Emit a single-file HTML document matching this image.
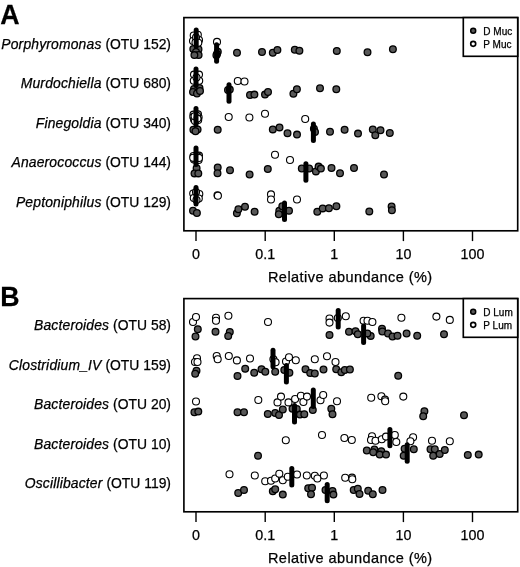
<!DOCTYPE html>
<html><head><meta charset="utf-8"><title>Figure</title>
<style>
html,body{margin:0;padding:0;background:#fff;}
svg{display:block;font-family:"Liberation Sans",sans-serif;fill:#000;}
text{stroke:#000;stroke-width:0.25px;}
</style></head>
<body>
<svg width="520" height="567" viewBox="0 0 520 567">
<rect x="0" y="0" width="520" height="567" fill="#fff"/>
<g id="panelA">
<text transform="translate(0.25,24.0) scale(0.955,1.01)" x="0" y="0" font-size="28" font-weight="bold">A</text>
<text x="171" y="49.0" font-size="13.9" text-anchor="end"><tspan font-style="italic" letter-spacing="0.17">Porphyromonas</tspan> (OTU 152)</text>
<text x="171" y="88.3" font-size="13.9" text-anchor="end"><tspan font-style="italic" letter-spacing="0.17">Murdochiella</tspan> (OTU 680)</text>
<text x="171" y="127.8" font-size="13.9" text-anchor="end"><tspan font-style="italic" letter-spacing="0.17">Finegoldia</tspan> (OTU 340)</text>
<text x="171" y="167.3" font-size="13.9" text-anchor="end"><tspan font-style="italic" letter-spacing="0.17">Anaerococcus</tspan> (OTU 144)</text>
<text x="171" y="206.6" font-size="13.9" text-anchor="end"><tspan font-style="italic" letter-spacing="0.17">Peptoniphilus</tspan> (OTU 129)</text>
<circle cx="193.3" cy="49.0" r="3.35" fill="#585858" stroke="#000" stroke-width="1.3"/>
<circle cx="198.5" cy="49.3" r="3.35" fill="#585858" stroke="#000" stroke-width="1.3"/>
<circle cx="196.0" cy="52.0" r="3.35" fill="#585858" stroke="#000" stroke-width="1.3"/>
<circle cx="198.6" cy="55.0" r="3.35" fill="#585858" stroke="#000" stroke-width="1.3"/>
<circle cx="194.4" cy="55.1" r="3.35" fill="#585858" stroke="#000" stroke-width="1.3"/>
<circle cx="217.8" cy="51.8" r="3.35" fill="#585858" stroke="#000" stroke-width="1.3"/>
<circle cx="217.0" cy="54.0" r="3.35" fill="#585858" stroke="#000" stroke-width="1.3"/>
<circle cx="216.4" cy="55.3" r="3.35" fill="#585858" stroke="#000" stroke-width="1.3"/>
<circle cx="237.0" cy="52.8" r="3.35" fill="#585858" stroke="#000" stroke-width="1.3"/>
<circle cx="262.0" cy="52.0" r="3.35" fill="#585858" stroke="#000" stroke-width="1.3"/>
<circle cx="272.8" cy="52.8" r="3.35" fill="#585858" stroke="#000" stroke-width="1.3"/>
<circle cx="277.4" cy="50.0" r="3.35" fill="#585858" stroke="#000" stroke-width="1.3"/>
<circle cx="294.8" cy="49.7" r="3.35" fill="#585858" stroke="#000" stroke-width="1.3"/>
<circle cx="299.4" cy="50.8" r="3.35" fill="#585858" stroke="#000" stroke-width="1.3"/>
<circle cx="336.8" cy="50.9" r="3.35" fill="#585858" stroke="#000" stroke-width="1.3"/>
<circle cx="367.5" cy="52.3" r="3.35" fill="#585858" stroke="#000" stroke-width="1.3"/>
<circle cx="392.9" cy="49.2" r="3.35" fill="#585858" stroke="#000" stroke-width="1.3"/>
<circle cx="193.7" cy="35.5" r="3.5" fill="#fff" stroke="#000" stroke-width="1.1"/>
<circle cx="193.0" cy="41.0" r="3.5" fill="#fff" stroke="#000" stroke-width="1.1"/>
<circle cx="197.8" cy="34.8" r="3.5" fill="#fff" stroke="#000" stroke-width="1.1"/>
<circle cx="199.0" cy="40.0" r="3.5" fill="#fff" stroke="#000" stroke-width="1.1"/>
<circle cx="196.0" cy="37.5" r="3.5" fill="#fff" stroke="#000" stroke-width="1.1"/>
<circle cx="195.5" cy="42.5" r="3.5" fill="#fff" stroke="#000" stroke-width="1.1"/>
<circle cx="198.3" cy="42.8" r="3.5" fill="#fff" stroke="#000" stroke-width="1.1"/>
<circle cx="217.0" cy="41.9" r="3.5" fill="#fff" stroke="#000" stroke-width="1.1"/>
<line x1="216.6" y1="44.8" x2="216.6" y2="61.2" stroke="#000" stroke-width="5" stroke-linecap="round"/>
<line x1="196.2" y1="30.1" x2="196.2" y2="46.5" stroke="#000" stroke-width="5" stroke-linecap="round"/>
<circle cx="194.0" cy="89.0" r="3.35" fill="#585858" stroke="#000" stroke-width="1.3"/>
<circle cx="199.5" cy="88.0" r="3.35" fill="#585858" stroke="#000" stroke-width="1.3"/>
<circle cx="193.0" cy="92.0" r="3.35" fill="#585858" stroke="#000" stroke-width="1.3"/>
<circle cx="197.0" cy="93.5" r="3.35" fill="#585858" stroke="#000" stroke-width="1.3"/>
<circle cx="200.0" cy="91.0" r="3.35" fill="#585858" stroke="#000" stroke-width="1.3"/>
<circle cx="228.0" cy="90.0" r="3.35" fill="#585858" stroke="#000" stroke-width="1.3"/>
<circle cx="229.8" cy="89.6" r="3.35" fill="#585858" stroke="#000" stroke-width="1.3"/>
<circle cx="250.0" cy="95.0" r="3.35" fill="#585858" stroke="#000" stroke-width="1.3"/>
<circle cx="254.4" cy="94.6" r="3.35" fill="#585858" stroke="#000" stroke-width="1.3"/>
<circle cx="265.0" cy="94.6" r="3.35" fill="#585858" stroke="#000" stroke-width="1.3"/>
<circle cx="268.0" cy="92.0" r="3.35" fill="#585858" stroke="#000" stroke-width="1.3"/>
<circle cx="293.4" cy="93.7" r="3.35" fill="#585858" stroke="#000" stroke-width="1.3"/>
<circle cx="296.9" cy="89.2" r="3.35" fill="#585858" stroke="#000" stroke-width="1.3"/>
<circle cx="320.0" cy="88.3" r="3.35" fill="#585858" stroke="#000" stroke-width="1.3"/>
<circle cx="336.3" cy="89.2" r="3.35" fill="#585858" stroke="#000" stroke-width="1.3"/>
<circle cx="194.0" cy="74.6" r="3.5" fill="#fff" stroke="#000" stroke-width="1.1"/>
<circle cx="199.0" cy="74.6" r="3.5" fill="#fff" stroke="#000" stroke-width="1.1"/>
<circle cx="193.8" cy="80.8" r="3.5" fill="#fff" stroke="#000" stroke-width="1.1"/>
<circle cx="199.2" cy="80.8" r="3.5" fill="#fff" stroke="#000" stroke-width="1.1"/>
<circle cx="196.5" cy="77.5" r="3.5" fill="#fff" stroke="#000" stroke-width="1.1"/>
<circle cx="237.8" cy="81.0" r="3.5" fill="#fff" stroke="#000" stroke-width="1.1"/>
<circle cx="244.5" cy="81.5" r="3.5" fill="#fff" stroke="#000" stroke-width="1.1"/>
<line x1="229.0" y1="84.8" x2="229.0" y2="101.2" stroke="#000" stroke-width="5" stroke-linecap="round"/>
<line x1="196.0" y1="69.1" x2="196.0" y2="85.5" stroke="#000" stroke-width="5" stroke-linecap="round"/>
<circle cx="193.4" cy="129.8" r="3.35" fill="#585858" stroke="#000" stroke-width="1.3"/>
<circle cx="197.6" cy="129.5" r="3.35" fill="#585858" stroke="#000" stroke-width="1.3"/>
<circle cx="195.5" cy="131.2" r="3.35" fill="#585858" stroke="#000" stroke-width="1.3"/>
<circle cx="217.7" cy="129.8" r="3.35" fill="#585858" stroke="#000" stroke-width="1.3"/>
<circle cx="272.8" cy="129.4" r="3.35" fill="#585858" stroke="#000" stroke-width="1.3"/>
<circle cx="279.5" cy="127.4" r="3.35" fill="#585858" stroke="#000" stroke-width="1.3"/>
<circle cx="287.5" cy="133.3" r="3.35" fill="#585858" stroke="#000" stroke-width="1.3"/>
<circle cx="297.0" cy="134.6" r="3.35" fill="#585858" stroke="#000" stroke-width="1.3"/>
<circle cx="313.9" cy="128.7" r="3.35" fill="#585858" stroke="#000" stroke-width="1.3"/>
<circle cx="315.0" cy="131.9" r="3.35" fill="#585858" stroke="#000" stroke-width="1.3"/>
<circle cx="330.0" cy="131.7" r="3.35" fill="#585858" stroke="#000" stroke-width="1.3"/>
<circle cx="344.6" cy="129.8" r="3.35" fill="#585858" stroke="#000" stroke-width="1.3"/>
<circle cx="358.0" cy="133.6" r="3.35" fill="#585858" stroke="#000" stroke-width="1.3"/>
<circle cx="372.8" cy="129.4" r="3.35" fill="#585858" stroke="#000" stroke-width="1.3"/>
<circle cx="375.3" cy="135.2" r="3.35" fill="#585858" stroke="#000" stroke-width="1.3"/>
<circle cx="380.5" cy="130.2" r="3.35" fill="#585858" stroke="#000" stroke-width="1.3"/>
<circle cx="389.8" cy="133.0" r="3.35" fill="#585858" stroke="#000" stroke-width="1.3"/>
<circle cx="193.5" cy="114.6" r="3.5" fill="#fff" stroke="#000" stroke-width="1.1"/>
<circle cx="198.0" cy="114.4" r="3.5" fill="#fff" stroke="#000" stroke-width="1.1"/>
<circle cx="193.3" cy="117.0" r="3.5" fill="#fff" stroke="#000" stroke-width="1.1"/>
<circle cx="198.6" cy="117.2" r="3.5" fill="#fff" stroke="#000" stroke-width="1.1"/>
<circle cx="194.0" cy="119.6" r="3.5" fill="#fff" stroke="#000" stroke-width="1.1"/>
<circle cx="198.2" cy="120.0" r="3.5" fill="#fff" stroke="#000" stroke-width="1.1"/>
<circle cx="195.0" cy="121.0" r="3.5" fill="#fff" stroke="#000" stroke-width="1.1"/>
<circle cx="197.0" cy="115.8" r="3.5" fill="#fff" stroke="#000" stroke-width="1.1"/>
<circle cx="194.6" cy="116.2" r="3.5" fill="#fff" stroke="#000" stroke-width="1.1"/>
<circle cx="197.5" cy="118.6" r="3.5" fill="#fff" stroke="#000" stroke-width="1.1"/>
<circle cx="228.7" cy="117.0" r="3.5" fill="#fff" stroke="#000" stroke-width="1.1"/>
<circle cx="249.4" cy="117.5" r="3.5" fill="#fff" stroke="#000" stroke-width="1.1"/>
<circle cx="265.0" cy="113.8" r="3.5" fill="#fff" stroke="#000" stroke-width="1.1"/>
<circle cx="305.2" cy="119.0" r="3.5" fill="#fff" stroke="#000" stroke-width="1.1"/>
<line x1="313.4" y1="124.1" x2="313.4" y2="140.5" stroke="#000" stroke-width="5" stroke-linecap="round"/>
<line x1="196.0" y1="108.6" x2="196.0" y2="125.0" stroke="#000" stroke-width="5" stroke-linecap="round"/>
<circle cx="196.6" cy="168.3" r="3.35" fill="#585858" stroke="#000" stroke-width="1.3"/>
<circle cx="194.5" cy="173.4" r="3.35" fill="#585858" stroke="#000" stroke-width="1.3"/>
<circle cx="198.3" cy="173.4" r="3.35" fill="#585858" stroke="#000" stroke-width="1.3"/>
<circle cx="217.7" cy="167.4" r="3.35" fill="#585858" stroke="#000" stroke-width="1.3"/>
<circle cx="217.5" cy="173.2" r="3.35" fill="#585858" stroke="#000" stroke-width="1.3"/>
<circle cx="230.0" cy="170.3" r="3.35" fill="#585858" stroke="#000" stroke-width="1.3"/>
<circle cx="249.6" cy="174.5" r="3.35" fill="#585858" stroke="#000" stroke-width="1.3"/>
<circle cx="267.8" cy="169.0" r="3.35" fill="#585858" stroke="#000" stroke-width="1.3"/>
<circle cx="301.8" cy="168.5" r="3.35" fill="#585858" stroke="#000" stroke-width="1.3"/>
<circle cx="309.1" cy="168.5" r="3.35" fill="#585858" stroke="#000" stroke-width="1.3"/>
<circle cx="315.9" cy="171.4" r="3.35" fill="#585858" stroke="#000" stroke-width="1.3"/>
<circle cx="318.6" cy="166.6" r="3.35" fill="#585858" stroke="#000" stroke-width="1.3"/>
<circle cx="320.9" cy="168.6" r="3.35" fill="#585858" stroke="#000" stroke-width="1.3"/>
<circle cx="331.5" cy="168.0" r="3.35" fill="#585858" stroke="#000" stroke-width="1.3"/>
<circle cx="340.0" cy="173.2" r="3.35" fill="#585858" stroke="#000" stroke-width="1.3"/>
<circle cx="354.0" cy="168.0" r="3.35" fill="#585858" stroke="#000" stroke-width="1.3"/>
<circle cx="384.0" cy="174.5" r="3.35" fill="#585858" stroke="#000" stroke-width="1.3"/>
<circle cx="193.5" cy="156.0" r="3.5" fill="#fff" stroke="#000" stroke-width="1.1"/>
<circle cx="199.0" cy="155.6" r="3.5" fill="#fff" stroke="#000" stroke-width="1.1"/>
<circle cx="194.0" cy="159.6" r="3.5" fill="#fff" stroke="#000" stroke-width="1.1"/>
<circle cx="198.6" cy="160.0" r="3.5" fill="#fff" stroke="#000" stroke-width="1.1"/>
<circle cx="196.0" cy="157.0" r="3.5" fill="#fff" stroke="#000" stroke-width="1.1"/>
<circle cx="195.0" cy="158.6" r="3.5" fill="#fff" stroke="#000" stroke-width="1.1"/>
<circle cx="197.6" cy="156.4" r="3.5" fill="#fff" stroke="#000" stroke-width="1.1"/>
<circle cx="193.2" cy="157.8" r="3.5" fill="#fff" stroke="#000" stroke-width="1.1"/>
<circle cx="199.0" cy="158.0" r="3.5" fill="#fff" stroke="#000" stroke-width="1.1"/>
<circle cx="275.0" cy="154.7" r="3.5" fill="#fff" stroke="#000" stroke-width="1.1"/>
<circle cx="290.0" cy="160.0" r="3.5" fill="#fff" stroke="#000" stroke-width="1.1"/>
<line x1="305.9" y1="163.8" x2="305.9" y2="180.2" stroke="#000" stroke-width="5" stroke-linecap="round"/>
<line x1="196.0" y1="148.1" x2="196.0" y2="164.5" stroke="#000" stroke-width="5" stroke-linecap="round"/>
<circle cx="193.0" cy="210.7" r="3.35" fill="#585858" stroke="#000" stroke-width="1.3"/>
<circle cx="196.9" cy="213.0" r="3.35" fill="#585858" stroke="#000" stroke-width="1.3"/>
<circle cx="236.9" cy="213.2" r="3.35" fill="#585858" stroke="#000" stroke-width="1.3"/>
<circle cx="238.4" cy="209.3" r="3.35" fill="#585858" stroke="#000" stroke-width="1.3"/>
<circle cx="245.0" cy="206.8" r="3.35" fill="#585858" stroke="#000" stroke-width="1.3"/>
<circle cx="254.6" cy="211.7" r="3.35" fill="#585858" stroke="#000" stroke-width="1.3"/>
<circle cx="279.3" cy="210.8" r="3.35" fill="#585858" stroke="#000" stroke-width="1.3"/>
<circle cx="278.8" cy="214.3" r="3.35" fill="#585858" stroke="#000" stroke-width="1.3"/>
<circle cx="282.3" cy="206.3" r="3.35" fill="#585858" stroke="#000" stroke-width="1.3"/>
<circle cx="289.0" cy="210.8" r="3.35" fill="#585858" stroke="#000" stroke-width="1.3"/>
<circle cx="317.3" cy="211.7" r="3.35" fill="#585858" stroke="#000" stroke-width="1.3"/>
<circle cx="322.7" cy="208.4" r="3.35" fill="#585858" stroke="#000" stroke-width="1.3"/>
<circle cx="328.9" cy="208.2" r="3.35" fill="#585858" stroke="#000" stroke-width="1.3"/>
<circle cx="336.4" cy="206.3" r="3.35" fill="#585858" stroke="#000" stroke-width="1.3"/>
<circle cx="369.3" cy="211.4" r="3.35" fill="#585858" stroke="#000" stroke-width="1.3"/>
<circle cx="391.6" cy="206.5" r="3.35" fill="#585858" stroke="#000" stroke-width="1.3"/>
<circle cx="391.9" cy="210.3" r="3.35" fill="#585858" stroke="#000" stroke-width="1.3"/>
<circle cx="193.2" cy="193.5" r="3.5" fill="#fff" stroke="#000" stroke-width="1.1"/>
<circle cx="199.3" cy="194.0" r="3.5" fill="#fff" stroke="#000" stroke-width="1.1"/>
<circle cx="193.8" cy="198.0" r="3.5" fill="#fff" stroke="#000" stroke-width="1.1"/>
<circle cx="198.8" cy="198.5" r="3.5" fill="#fff" stroke="#000" stroke-width="1.1"/>
<circle cx="196.0" cy="192.0" r="3.5" fill="#fff" stroke="#000" stroke-width="1.1"/>
<circle cx="196.5" cy="200.0" r="3.5" fill="#fff" stroke="#000" stroke-width="1.1"/>
<circle cx="217.5" cy="195.2" r="3.5" fill="#fff" stroke="#000" stroke-width="1.1"/>
<circle cx="217.9" cy="195.7" r="3.5" fill="#fff" stroke="#000" stroke-width="1.1"/>
<circle cx="271.0" cy="194.4" r="3.5" fill="#fff" stroke="#000" stroke-width="1.1"/>
<circle cx="271.0" cy="199.5" r="3.5" fill="#fff" stroke="#000" stroke-width="1.1"/>
<circle cx="297.0" cy="199.5" r="3.5" fill="#fff" stroke="#000" stroke-width="1.1"/>
<line x1="284.5" y1="203.1" x2="284.5" y2="219.5" stroke="#000" stroke-width="5" stroke-linecap="round"/>
<line x1="196.0" y1="187.6" x2="196.0" y2="204.0" stroke="#000" stroke-width="5" stroke-linecap="round"/>
<rect x="183.9" y="17.6" width="333.8" height="213.2" fill="none" stroke="#000" stroke-width="1.65"/>
<rect x="463.3" y="17.6" width="54.4" height="38.7" fill="#fff" stroke="#000" stroke-width="1.65"/>
<circle cx="473.2" cy="30.8" r="2.5" fill="#585858" stroke="#000" stroke-width="1.5"/>
<circle cx="473.2" cy="43.8" r="2.5" fill="#fff" stroke="#000" stroke-width="1.65"/>
<text x="483.3" y="35.1" font-size="10">D Muc</text>
<text x="483.3" y="48.1" font-size="10">P Muc</text>
<line x1="196" y1="230.8" x2="196" y2="241.1" stroke="#000" stroke-width="1.4"/>
<text x="196" y="258.9" font-size="14.3" text-anchor="middle">0</text>
<line x1="265.2" y1="230.8" x2="265.2" y2="241.1" stroke="#000" stroke-width="1.4"/>
<text x="265.2" y="258.9" font-size="14.3" text-anchor="middle">0.1</text>
<line x1="334.3" y1="230.8" x2="334.3" y2="241.1" stroke="#000" stroke-width="1.4"/>
<text x="334.3" y="258.9" font-size="14.3" text-anchor="middle">1</text>
<line x1="403.4" y1="230.8" x2="403.4" y2="241.1" stroke="#000" stroke-width="1.4"/>
<text x="403.4" y="258.9" font-size="14.3" text-anchor="middle">10</text>
<line x1="472.5" y1="230.8" x2="472.5" y2="241.1" stroke="#000" stroke-width="1.4"/>
<text x="472.5" y="258.9" font-size="14.3" text-anchor="middle">100</text>
<text x="350.3" y="281.9" font-size="14.5" text-anchor="middle" letter-spacing="0.45">Relative abundance (%)</text>
</g>
<g id="panelB">
<text transform="translate(0.25,305.5) scale(0.955,1.01)" x="0" y="0" font-size="28" font-weight="bold">B</text>
<text x="171" y="330.4" font-size="13.9" text-anchor="end"><tspan font-style="italic" letter-spacing="0.17">Bacteroides</tspan> (OTU 58)</text>
<text x="171" y="369.7" font-size="13.9" text-anchor="end"><tspan font-style="italic" letter-spacing="0.17">Clostridium_IV</tspan> (OTU 159)</text>
<text x="171" y="409.2" font-size="13.9" text-anchor="end"><tspan font-style="italic" letter-spacing="0.17">Bacteroides</tspan> (OTU 20)</text>
<text x="171" y="448.7" font-size="13.9" text-anchor="end"><tspan font-style="italic" letter-spacing="0.17">Bacteroides</tspan> (OTU 10)</text>
<text x="171" y="488.0" font-size="13.9" text-anchor="end"><tspan font-style="italic" letter-spacing="0.17">Oscillibacter</tspan> (OTU 119)</text>
<circle cx="197.8" cy="329.2" r="3.35" fill="#585858" stroke="#000" stroke-width="1.3"/>
<circle cx="195.5" cy="336.5" r="3.35" fill="#585858" stroke="#000" stroke-width="1.3"/>
<circle cx="215.5" cy="331.7" r="3.35" fill="#585858" stroke="#000" stroke-width="1.3"/>
<circle cx="229.8" cy="332.0" r="3.35" fill="#585858" stroke="#000" stroke-width="1.3"/>
<circle cx="228.2" cy="336.0" r="3.35" fill="#585858" stroke="#000" stroke-width="1.3"/>
<circle cx="329.5" cy="335.0" r="3.35" fill="#585858" stroke="#000" stroke-width="1.3"/>
<circle cx="349.0" cy="331.8" r="3.35" fill="#585858" stroke="#000" stroke-width="1.3"/>
<circle cx="355.5" cy="331.2" r="3.35" fill="#585858" stroke="#000" stroke-width="1.3"/>
<circle cx="357.8" cy="334.2" r="3.35" fill="#585858" stroke="#000" stroke-width="1.3"/>
<circle cx="370.7" cy="335.9" r="3.35" fill="#585858" stroke="#000" stroke-width="1.3"/>
<circle cx="367.3" cy="333.4" r="3.35" fill="#585858" stroke="#000" stroke-width="1.3"/>
<circle cx="382.0" cy="328.8" r="3.35" fill="#585858" stroke="#000" stroke-width="1.3"/>
<circle cx="382.3" cy="331.5" r="3.35" fill="#585858" stroke="#000" stroke-width="1.3"/>
<circle cx="388.0" cy="333.5" r="3.35" fill="#585858" stroke="#000" stroke-width="1.3"/>
<circle cx="392.5" cy="336.5" r="3.35" fill="#585858" stroke="#000" stroke-width="1.3"/>
<circle cx="397.5" cy="335.8" r="3.35" fill="#585858" stroke="#000" stroke-width="1.3"/>
<circle cx="406.6" cy="333.5" r="3.35" fill="#585858" stroke="#000" stroke-width="1.3"/>
<circle cx="417.2" cy="335.8" r="3.35" fill="#585858" stroke="#000" stroke-width="1.3"/>
<circle cx="444.0" cy="334.2" r="3.35" fill="#585858" stroke="#000" stroke-width="1.3"/>
<circle cx="193.0" cy="322.0" r="3.5" fill="#fff" stroke="#000" stroke-width="1.1"/>
<circle cx="196.0" cy="317.0" r="3.5" fill="#fff" stroke="#000" stroke-width="1.1"/>
<circle cx="216.0" cy="317.7" r="3.5" fill="#fff" stroke="#000" stroke-width="1.1"/>
<circle cx="216.0" cy="320.8" r="3.5" fill="#fff" stroke="#000" stroke-width="1.1"/>
<circle cx="228.4" cy="315.8" r="3.5" fill="#fff" stroke="#000" stroke-width="1.1"/>
<circle cx="268.0" cy="322.0" r="3.5" fill="#fff" stroke="#000" stroke-width="1.1"/>
<circle cx="329.5" cy="318.5" r="3.5" fill="#fff" stroke="#000" stroke-width="1.1"/>
<circle cx="329.5" cy="322.6" r="3.5" fill="#fff" stroke="#000" stroke-width="1.1"/>
<circle cx="337.8" cy="318.0" r="3.5" fill="#fff" stroke="#000" stroke-width="1.1"/>
<circle cx="345.8" cy="316.2" r="3.5" fill="#fff" stroke="#000" stroke-width="1.1"/>
<circle cx="363.6" cy="320.8" r="3.5" fill="#fff" stroke="#000" stroke-width="1.1"/>
<circle cx="367.5" cy="320.8" r="3.5" fill="#fff" stroke="#000" stroke-width="1.1"/>
<circle cx="372.4" cy="322.0" r="3.5" fill="#fff" stroke="#000" stroke-width="1.1"/>
<circle cx="401.4" cy="317.8" r="3.5" fill="#fff" stroke="#000" stroke-width="1.1"/>
<circle cx="436.4" cy="316.6" r="3.5" fill="#fff" stroke="#000" stroke-width="1.1"/>
<circle cx="449.8" cy="319.9" r="3.5" fill="#fff" stroke="#000" stroke-width="1.1"/>
<line x1="363.6" y1="326.1" x2="363.6" y2="342.5" stroke="#000" stroke-width="5" stroke-linecap="round"/>
<line x1="338.2" y1="310.6" x2="338.2" y2="327.0" stroke="#000" stroke-width="5" stroke-linecap="round"/>
<circle cx="196.5" cy="370.8" r="3.35" fill="#585858" stroke="#000" stroke-width="1.3"/>
<circle cx="195.2" cy="373.7" r="3.35" fill="#585858" stroke="#000" stroke-width="1.3"/>
<circle cx="237.5" cy="376.0" r="3.35" fill="#585858" stroke="#000" stroke-width="1.3"/>
<circle cx="245.2" cy="368.8" r="3.35" fill="#585858" stroke="#000" stroke-width="1.3"/>
<circle cx="254.2" cy="372.7" r="3.35" fill="#585858" stroke="#000" stroke-width="1.3"/>
<circle cx="261.5" cy="369.2" r="3.35" fill="#585858" stroke="#000" stroke-width="1.3"/>
<circle cx="265.3" cy="371.7" r="3.35" fill="#585858" stroke="#000" stroke-width="1.3"/>
<circle cx="275.2" cy="371.8" r="3.35" fill="#585858" stroke="#000" stroke-width="1.3"/>
<circle cx="284.3" cy="370.0" r="3.35" fill="#585858" stroke="#000" stroke-width="1.3"/>
<circle cx="289.4" cy="372.8" r="3.35" fill="#585858" stroke="#000" stroke-width="1.3"/>
<circle cx="305.5" cy="369.3" r="3.35" fill="#585858" stroke="#000" stroke-width="1.3"/>
<circle cx="310.2" cy="373.0" r="3.35" fill="#585858" stroke="#000" stroke-width="1.3"/>
<circle cx="314.8" cy="373.5" r="3.35" fill="#585858" stroke="#000" stroke-width="1.3"/>
<circle cx="323.5" cy="369.5" r="3.35" fill="#585858" stroke="#000" stroke-width="1.3"/>
<circle cx="336.2" cy="369.3" r="3.35" fill="#585858" stroke="#000" stroke-width="1.3"/>
<circle cx="341.3" cy="372.3" r="3.35" fill="#585858" stroke="#000" stroke-width="1.3"/>
<circle cx="344.8" cy="370.0" r="3.35" fill="#585858" stroke="#000" stroke-width="1.3"/>
<circle cx="349.9" cy="369.5" r="3.35" fill="#585858" stroke="#000" stroke-width="1.3"/>
<circle cx="398.2" cy="375.8" r="3.35" fill="#585858" stroke="#000" stroke-width="1.3"/>
<circle cx="197.0" cy="358.3" r="3.5" fill="#fff" stroke="#000" stroke-width="1.1"/>
<circle cx="195.0" cy="362.0" r="3.5" fill="#fff" stroke="#000" stroke-width="1.1"/>
<circle cx="197.5" cy="362.0" r="3.5" fill="#fff" stroke="#000" stroke-width="1.1"/>
<circle cx="216.7" cy="356.0" r="3.5" fill="#fff" stroke="#000" stroke-width="1.1"/>
<circle cx="217.7" cy="359.2" r="3.5" fill="#fff" stroke="#000" stroke-width="1.1"/>
<circle cx="228.8" cy="356.0" r="3.5" fill="#fff" stroke="#000" stroke-width="1.1"/>
<circle cx="236.9" cy="360.4" r="3.5" fill="#fff" stroke="#000" stroke-width="1.1"/>
<circle cx="250.0" cy="358.5" r="3.5" fill="#fff" stroke="#000" stroke-width="1.1"/>
<circle cx="273.4" cy="359.3" r="3.5" fill="#fff" stroke="#000" stroke-width="1.1"/>
<circle cx="275.6" cy="362.2" r="3.5" fill="#fff" stroke="#000" stroke-width="1.1"/>
<circle cx="286.0" cy="361.5" r="3.5" fill="#fff" stroke="#000" stroke-width="1.1"/>
<circle cx="289.0" cy="357.3" r="3.5" fill="#fff" stroke="#000" stroke-width="1.1"/>
<circle cx="295.8" cy="360.3" r="3.5" fill="#fff" stroke="#000" stroke-width="1.1"/>
<circle cx="314.8" cy="359.2" r="3.5" fill="#fff" stroke="#000" stroke-width="1.1"/>
<circle cx="327.0" cy="356.2" r="3.5" fill="#fff" stroke="#000" stroke-width="1.1"/>
<circle cx="335.5" cy="362.0" r="3.5" fill="#fff" stroke="#000" stroke-width="1.1"/>
<line x1="286.4" y1="365.6" x2="286.4" y2="382.0" stroke="#000" stroke-width="5" stroke-linecap="round"/>
<line x1="273.0" y1="350.3" x2="273.0" y2="366.7" stroke="#000" stroke-width="5" stroke-linecap="round"/>
<circle cx="194.4" cy="412.3" r="3.35" fill="#585858" stroke="#000" stroke-width="1.3"/>
<circle cx="198.3" cy="411.6" r="3.35" fill="#585858" stroke="#000" stroke-width="1.3"/>
<circle cx="237.5" cy="412.3" r="3.35" fill="#585858" stroke="#000" stroke-width="1.3"/>
<circle cx="244.0" cy="412.3" r="3.35" fill="#585858" stroke="#000" stroke-width="1.3"/>
<circle cx="267.8" cy="414.0" r="3.35" fill="#585858" stroke="#000" stroke-width="1.3"/>
<circle cx="275.2" cy="413.0" r="3.35" fill="#585858" stroke="#000" stroke-width="1.3"/>
<circle cx="279.0" cy="415.0" r="3.35" fill="#585858" stroke="#000" stroke-width="1.3"/>
<circle cx="282.8" cy="409.5" r="3.35" fill="#585858" stroke="#000" stroke-width="1.3"/>
<circle cx="292.5" cy="408.8" r="3.35" fill="#585858" stroke="#000" stroke-width="1.3"/>
<circle cx="296.8" cy="409.0" r="3.35" fill="#585858" stroke="#000" stroke-width="1.3"/>
<circle cx="300.0" cy="414.6" r="3.35" fill="#585858" stroke="#000" stroke-width="1.3"/>
<circle cx="304.3" cy="414.2" r="3.35" fill="#585858" stroke="#000" stroke-width="1.3"/>
<circle cx="312.8" cy="410.0" r="3.35" fill="#585858" stroke="#000" stroke-width="1.3"/>
<circle cx="331.3" cy="408.8" r="3.35" fill="#585858" stroke="#000" stroke-width="1.3"/>
<circle cx="332.5" cy="414.2" r="3.35" fill="#585858" stroke="#000" stroke-width="1.3"/>
<circle cx="424.4" cy="411.2" r="3.35" fill="#585858" stroke="#000" stroke-width="1.3"/>
<circle cx="423.2" cy="416.2" r="3.35" fill="#585858" stroke="#000" stroke-width="1.3"/>
<circle cx="464.0" cy="415.3" r="3.35" fill="#585858" stroke="#000" stroke-width="1.3"/>
<circle cx="196.0" cy="401.5" r="3.5" fill="#fff" stroke="#000" stroke-width="1.1"/>
<circle cx="258.3" cy="400.0" r="3.5" fill="#fff" stroke="#000" stroke-width="1.1"/>
<circle cx="277.5" cy="402.4" r="3.5" fill="#fff" stroke="#000" stroke-width="1.1"/>
<circle cx="281.0" cy="396.6" r="3.5" fill="#fff" stroke="#000" stroke-width="1.1"/>
<circle cx="288.5" cy="402.4" r="3.5" fill="#fff" stroke="#000" stroke-width="1.1"/>
<circle cx="295.1" cy="399.0" r="3.5" fill="#fff" stroke="#000" stroke-width="1.1"/>
<circle cx="300.9" cy="395.7" r="3.5" fill="#fff" stroke="#000" stroke-width="1.1"/>
<circle cx="303.4" cy="402.0" r="3.5" fill="#fff" stroke="#000" stroke-width="1.1"/>
<circle cx="307.0" cy="396.6" r="3.5" fill="#fff" stroke="#000" stroke-width="1.1"/>
<circle cx="320.5" cy="400.3" r="3.5" fill="#fff" stroke="#000" stroke-width="1.1"/>
<circle cx="323.2" cy="395.0" r="3.5" fill="#fff" stroke="#000" stroke-width="1.1"/>
<circle cx="337.0" cy="401.2" r="3.5" fill="#fff" stroke="#000" stroke-width="1.1"/>
<circle cx="371.2" cy="397.8" r="3.5" fill="#fff" stroke="#000" stroke-width="1.1"/>
<circle cx="381.4" cy="396.2" r="3.5" fill="#fff" stroke="#000" stroke-width="1.1"/>
<circle cx="385.0" cy="399.6" r="3.5" fill="#fff" stroke="#000" stroke-width="1.1"/>
<circle cx="385.2" cy="401.2" r="3.5" fill="#fff" stroke="#000" stroke-width="1.1"/>
<circle cx="403.3" cy="396.6" r="3.5" fill="#fff" stroke="#000" stroke-width="1.1"/>
<line x1="294.5" y1="405.6" x2="294.5" y2="422.0" stroke="#000" stroke-width="5" stroke-linecap="round"/>
<line x1="313.3" y1="390.1" x2="313.3" y2="406.5" stroke="#000" stroke-width="5" stroke-linecap="round"/>
<circle cx="258.0" cy="455.8" r="3.35" fill="#585858" stroke="#000" stroke-width="1.3"/>
<circle cx="366.8" cy="450.5" r="3.35" fill="#585858" stroke="#000" stroke-width="1.3"/>
<circle cx="374.4" cy="449.5" r="3.35" fill="#585858" stroke="#000" stroke-width="1.3"/>
<circle cx="373.2" cy="452.3" r="3.35" fill="#585858" stroke="#000" stroke-width="1.3"/>
<circle cx="381.3" cy="451.2" r="3.35" fill="#585858" stroke="#000" stroke-width="1.3"/>
<circle cx="379.7" cy="454.6" r="3.35" fill="#585858" stroke="#000" stroke-width="1.3"/>
<circle cx="386.0" cy="454.6" r="3.35" fill="#585858" stroke="#000" stroke-width="1.3"/>
<circle cx="404.6" cy="448.8" r="3.35" fill="#585858" stroke="#000" stroke-width="1.3"/>
<circle cx="413.8" cy="449.3" r="3.35" fill="#585858" stroke="#000" stroke-width="1.3"/>
<circle cx="403.7" cy="455.8" r="3.35" fill="#585858" stroke="#000" stroke-width="1.3"/>
<circle cx="430.5" cy="449.3" r="3.35" fill="#585858" stroke="#000" stroke-width="1.3"/>
<circle cx="434.8" cy="449.3" r="3.35" fill="#585858" stroke="#000" stroke-width="1.3"/>
<circle cx="433.2" cy="455.8" r="3.35" fill="#585858" stroke="#000" stroke-width="1.3"/>
<circle cx="439.7" cy="454.0" r="3.35" fill="#585858" stroke="#000" stroke-width="1.3"/>
<circle cx="444.8" cy="450.0" r="3.35" fill="#585858" stroke="#000" stroke-width="1.3"/>
<circle cx="467.8" cy="455.0" r="3.35" fill="#585858" stroke="#000" stroke-width="1.3"/>
<circle cx="478.7" cy="454.6" r="3.35" fill="#585858" stroke="#000" stroke-width="1.3"/>
<circle cx="285.8" cy="440.3" r="3.5" fill="#fff" stroke="#000" stroke-width="1.1"/>
<circle cx="322.0" cy="435.0" r="3.5" fill="#fff" stroke="#000" stroke-width="1.1"/>
<circle cx="344.4" cy="438.0" r="3.5" fill="#fff" stroke="#000" stroke-width="1.1"/>
<circle cx="351.8" cy="440.0" r="3.5" fill="#fff" stroke="#000" stroke-width="1.1"/>
<circle cx="372.0" cy="436.2" r="3.5" fill="#fff" stroke="#000" stroke-width="1.1"/>
<circle cx="371.0" cy="440.0" r="3.5" fill="#fff" stroke="#000" stroke-width="1.1"/>
<circle cx="375.5" cy="440.8" r="3.5" fill="#fff" stroke="#000" stroke-width="1.1"/>
<circle cx="381.8" cy="439.2" r="3.5" fill="#fff" stroke="#000" stroke-width="1.1"/>
<circle cx="386.0" cy="436.6" r="3.5" fill="#fff" stroke="#000" stroke-width="1.1"/>
<circle cx="394.8" cy="435.0" r="3.5" fill="#fff" stroke="#000" stroke-width="1.1"/>
<circle cx="396.3" cy="442.0" r="3.5" fill="#fff" stroke="#000" stroke-width="1.1"/>
<circle cx="413.1" cy="437.3" r="3.5" fill="#fff" stroke="#000" stroke-width="1.1"/>
<circle cx="410.4" cy="441.2" r="3.5" fill="#fff" stroke="#000" stroke-width="1.1"/>
<circle cx="432.0" cy="440.8" r="3.5" fill="#fff" stroke="#000" stroke-width="1.1"/>
<circle cx="449.8" cy="441.2" r="3.5" fill="#fff" stroke="#000" stroke-width="1.1"/>
<line x1="407.2" y1="444.8" x2="407.2" y2="461.2" stroke="#000" stroke-width="5" stroke-linecap="round"/>
<line x1="389.9" y1="429.4" x2="389.9" y2="445.8" stroke="#000" stroke-width="5" stroke-linecap="round"/>
<circle cx="238.2" cy="493.0" r="3.35" fill="#585858" stroke="#000" stroke-width="1.3"/>
<circle cx="244.0" cy="490.0" r="3.35" fill="#585858" stroke="#000" stroke-width="1.3"/>
<circle cx="272.8" cy="491.2" r="3.35" fill="#585858" stroke="#000" stroke-width="1.3"/>
<circle cx="275.2" cy="489.3" r="3.35" fill="#585858" stroke="#000" stroke-width="1.3"/>
<circle cx="282.8" cy="494.6" r="3.35" fill="#585858" stroke="#000" stroke-width="1.3"/>
<circle cx="308.2" cy="488.2" r="3.35" fill="#585858" stroke="#000" stroke-width="1.3"/>
<circle cx="312.0" cy="487.7" r="3.35" fill="#585858" stroke="#000" stroke-width="1.3"/>
<circle cx="311.0" cy="494.2" r="3.35" fill="#585858" stroke="#000" stroke-width="1.3"/>
<circle cx="325.5" cy="490.0" r="3.35" fill="#585858" stroke="#000" stroke-width="1.3"/>
<circle cx="332.5" cy="490.9" r="3.35" fill="#585858" stroke="#000" stroke-width="1.3"/>
<circle cx="333.4" cy="494.6" r="3.35" fill="#585858" stroke="#000" stroke-width="1.3"/>
<circle cx="353.7" cy="490.0" r="3.35" fill="#585858" stroke="#000" stroke-width="1.3"/>
<circle cx="357.8" cy="488.8" r="3.35" fill="#585858" stroke="#000" stroke-width="1.3"/>
<circle cx="359.5" cy="494.0" r="3.35" fill="#585858" stroke="#000" stroke-width="1.3"/>
<circle cx="368.2" cy="490.7" r="3.35" fill="#585858" stroke="#000" stroke-width="1.3"/>
<circle cx="372.8" cy="494.2" r="3.35" fill="#585858" stroke="#000" stroke-width="1.3"/>
<circle cx="382.5" cy="490.0" r="3.35" fill="#585858" stroke="#000" stroke-width="1.3"/>
<circle cx="229.5" cy="474.3" r="3.5" fill="#fff" stroke="#000" stroke-width="1.1"/>
<circle cx="254.8" cy="475.5" r="3.5" fill="#fff" stroke="#000" stroke-width="1.1"/>
<circle cx="265.2" cy="481.2" r="3.5" fill="#fff" stroke="#000" stroke-width="1.1"/>
<circle cx="271.0" cy="480.8" r="3.5" fill="#fff" stroke="#000" stroke-width="1.1"/>
<circle cx="275.2" cy="478.5" r="3.5" fill="#fff" stroke="#000" stroke-width="1.1"/>
<circle cx="279.3" cy="473.8" r="3.5" fill="#fff" stroke="#000" stroke-width="1.1"/>
<circle cx="282.8" cy="480.3" r="3.5" fill="#fff" stroke="#000" stroke-width="1.1"/>
<circle cx="287.8" cy="476.8" r="3.5" fill="#fff" stroke="#000" stroke-width="1.1"/>
<circle cx="297.0" cy="474.5" r="3.5" fill="#fff" stroke="#000" stroke-width="1.1"/>
<circle cx="306.8" cy="475.5" r="3.5" fill="#fff" stroke="#000" stroke-width="1.1"/>
<circle cx="314.8" cy="475.7" r="3.5" fill="#fff" stroke="#000" stroke-width="1.1"/>
<circle cx="317.4" cy="478.5" r="3.5" fill="#fff" stroke="#000" stroke-width="1.1"/>
<circle cx="323.9" cy="475.5" r="3.5" fill="#fff" stroke="#000" stroke-width="1.1"/>
<circle cx="345.2" cy="477.8" r="3.5" fill="#fff" stroke="#000" stroke-width="1.1"/>
<circle cx="352.0" cy="477.6" r="3.5" fill="#fff" stroke="#000" stroke-width="1.1"/>
<circle cx="352.3" cy="479.3" r="3.5" fill="#fff" stroke="#000" stroke-width="1.1"/>
<line x1="327.2" y1="484.4" x2="327.2" y2="500.8" stroke="#000" stroke-width="5" stroke-linecap="round"/>
<line x1="291.8" y1="468.6" x2="291.8" y2="485.0" stroke="#000" stroke-width="5" stroke-linecap="round"/>
<rect x="183.9" y="298.6" width="333.8" height="213.2" fill="none" stroke="#000" stroke-width="1.65"/>
<rect x="463.3" y="298.6" width="54.4" height="38.7" fill="#fff" stroke="#000" stroke-width="1.65"/>
<circle cx="473.2" cy="311.8" r="2.5" fill="#585858" stroke="#000" stroke-width="1.5"/>
<circle cx="473.2" cy="324.8" r="2.5" fill="#fff" stroke="#000" stroke-width="1.65"/>
<text x="483.3" y="316.1" font-size="10">D Lum</text>
<text x="483.3" y="329.1" font-size="10">P Lum</text>
<line x1="196" y1="511.8" x2="196" y2="522.1" stroke="#000" stroke-width="1.4"/>
<text x="196" y="539.9" font-size="14.3" text-anchor="middle">0</text>
<line x1="265.2" y1="511.8" x2="265.2" y2="522.1" stroke="#000" stroke-width="1.4"/>
<text x="265.2" y="539.9" font-size="14.3" text-anchor="middle">0.1</text>
<line x1="334.3" y1="511.8" x2="334.3" y2="522.1" stroke="#000" stroke-width="1.4"/>
<text x="334.3" y="539.9" font-size="14.3" text-anchor="middle">1</text>
<line x1="403.4" y1="511.8" x2="403.4" y2="522.1" stroke="#000" stroke-width="1.4"/>
<text x="403.4" y="539.9" font-size="14.3" text-anchor="middle">10</text>
<line x1="472.5" y1="511.8" x2="472.5" y2="522.1" stroke="#000" stroke-width="1.4"/>
<text x="472.5" y="539.9" font-size="14.3" text-anchor="middle">100</text>
<text x="350.3" y="562.9" font-size="14.5" text-anchor="middle" letter-spacing="0.45">Relative abundance (%)</text>
</g>
</svg>
</body></html>
